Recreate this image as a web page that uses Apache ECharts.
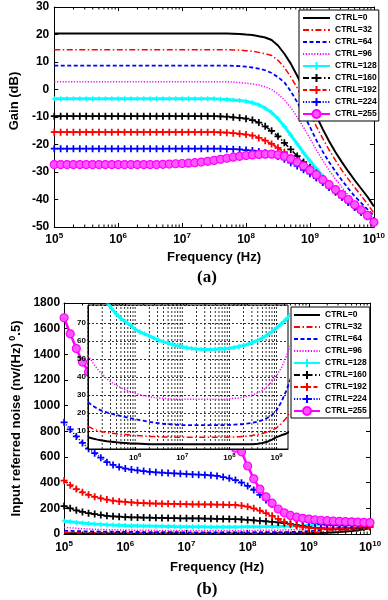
<!DOCTYPE html>
<html><head><meta charset="utf-8">
<script src="https://cdn.jsdelivr.net/npm/echarts@6/dist/echarts.min.js"></script>
<style>html,body{margin:0;padding:0;background:#fff}#c{width:388px;height:600px}</style>
</head><body><div id="c"></div>
<script>
// ---- frequency grid (0.1 decade steps) ----
const mantissas = [1.000,1.259,1.585,1.995,2.512,3.162,3.981,5.012,6.310,7.943];
const decades = [1e5,1e6,1e7,1e8,1e9];
const lastFreq = 1e10;
const minorMant = [2,3,4,5,6,7,8,9];
const ctrlNames = ['CTRL=0','CTRL=32','CTRL=64','CTRL=96','CTRL=128','CTRL=160','CTRL=192','CTRL=224','CTRL=255'];

// ---- (a) gain in dB ----
const gain0 = [20.4,20.4,20.4,20.4,20.4,20.4,20.4,20.4,20.4,20.4,
20.4,20.4,20.4,20.4,20.4,20.4,20.4,20.4,20.4,20.4,
20.4,20.4,20.4,20.4,20.4,20.4,20.4,20.4,20.3,20.2,
20.0,19.8,19.4,18.9,18.0,16.0,13.0,9.4,5.0,0.4,
-4.4,-9.6,-14.4,-18.8,-22.8,-26.4,-29.8,-33.0,-36.0,-39.0,
-42.5];
const gain32 = [14.5,14.5,14.5,14.5,14.5,14.5,14.5,14.5,14.5,14.5,
14.5,14.5,14.5,14.5,14.5,14.5,14.5,14.5,14.5,14.5,
14.5,14.5,14.5,14.5,14.5,14.5,14.5,14.5,14.4,14.3,
14.1,13.9,13.5,13.0,12.4,10.6,8.0,4.6,0.6,-3.8,
-8.5,-13.4,-17.8,-22.0,-25.8,-29.4,-32.6,-35.6,-38.6,-41.6,
-45.0];
const gain64 = [8.7,8.7,8.7,8.7,8.7,8.7,8.7,8.7,8.7,8.7,
8.7,8.7,8.7,8.7,8.7,8.7,8.7,8.7,8.7,8.7,
8.7,8.7,8.7,8.7,8.7,8.7,8.7,8.7,8.6,8.5,
8.3,8.0,7.6,7.0,6.0,4.5,2.6,-0.6,-4.6,-9.0,
-13.6,-18.4,-22.6,-26.4,-29.8,-33.0,-36.0,-38.8,-41.2,-43.6,
-46.0];
const gain96 = [2.8,2.8,2.8,2.8,2.8,2.8,2.8,2.8,2.8,2.8,
2.8,2.8,2.8,2.8,2.8,2.8,2.8,2.8,2.8,2.8,
2.8,2.8,2.8,2.8,2.8,2.8,2.8,2.8,2.7,2.5,
2.3,2.0,1.6,1.0,0.0,-1.6,-3.8,-6.6,-10.0,-13.8,
-17.8,-22.0,-25.8,-29.4,-32.6,-35.6,-38.4,-40.8,-43.0,-44.9,
-46.8];
const gain128 = [-3.4,-3.4,-3.4,-3.4,-3.4,-3.4,-3.4,-3.4,-3.4,-3.4,
-3.4,-3.4,-3.4,-3.4,-3.4,-3.4,-3.4,-3.4,-3.4,-3.4,
-3.4,-3.4,-3.4,-3.4,-3.4,-3.4,-3.5,-3.6,-3.8,-4.0,
-4.3,-4.8,-5.6,-6.8,-8.4,-10.6,-13.4,-16.6,-19.8,-23.0,
-26.0,-28.8,-31.4,-33.8,-36.2,-38.4,-40.4,-42.2,-44.0,-45.6,
-47.3];
const gain160 = [-9.7,-9.7,-9.7,-9.7,-9.7,-9.7,-9.7,-9.7,-9.7,-9.7,
-9.7,-9.7,-9.7,-9.7,-9.7,-9.7,-9.7,-9.7,-9.7,-9.7,
-9.7,-9.7,-9.7,-9.7,-9.7,-9.7,-9.8,-9.9,-10.1,-10.3,
-10.6,-11.1,-12.0,-13.4,-15.0,-17.0,-19.4,-21.8,-24.2,-26.4,
-28.4,-30.4,-32.4,-34.6,-36.8,-38.8,-40.8,-42.6,-44.4,-46.0,
-47.6];
const gain192 = [-15.5,-15.5,-15.5,-15.5,-15.5,-15.5,-15.5,-15.5,-15.5,-15.5,
-15.5,-15.5,-15.5,-15.5,-15.5,-15.5,-15.5,-15.5,-15.5,-15.5,
-15.5,-15.5,-15.5,-15.5,-15.5,-15.5,-15.6,-15.7,-15.9,-16.1,
-16.4,-16.8,-17.6,-18.6,-19.8,-21.2,-22.8,-24.6,-26.4,-28.2,
-30.0,-31.8,-33.6,-35.4,-37.2,-39.2,-41.0,-42.8,-44.6,-46.2,
-47.8];
const gain224 = [-21.5,-21.5,-21.5,-21.5,-21.5,-21.5,-21.5,-21.5,-21.5,-21.5,
-21.5,-21.5,-21.5,-21.5,-21.5,-21.5,-21.5,-21.5,-21.5,-21.5,
-21.5,-21.5,-21.5,-21.5,-21.5,-21.5,-21.5,-21.6,-21.7,-21.8,
-22.0,-22.2,-22.5,-23.0,-23.6,-24.4,-25.4,-26.6,-27.8,-29.2,
-30.6,-32.2,-33.8,-35.6,-37.4,-39.2,-41.0,-42.8,-44.6,-46.3,
-48.0];
const gain255 = [-27.3,-27.3,-27.3,-27.3,-27.3,-27.3,-27.3,-27.3,-27.3,-27.3,
-27.3,-27.3,-27.3,-27.3,-27.3,-27.3,-27.3,-27.2,-27.1,-27.0,
-26.9,-26.8,-26.6,-26.4,-26.1,-25.8,-25.4,-25.0,-24.6,-24.3,
-24.0,-23.8,-23.6,-23.5,-23.5,-23.8,-24.3,-25.2,-26.4,-27.8,
-29.3,-31.0,-32.8,-34.6,-36.4,-38.2,-40.0,-41.9,-43.8,-45.8,
-48.3];

// ---- (b) input referred noise ----
const noise0 = [6.5,5.8,5.2,4.7,4.3,4.0,3.7,3.5,3.3,3.1,
3.0,2.9,2.8,2.7,2.6,2.6,2.6,2.6,2.6,2.6,
2.6,2.6,2.6,2.6,2.6,2.6,2.6,2.6,2.6,2.6,
2.6,2.6,2.6,2.6,2.6,2.7,2.9,3.3,4.0,5.2,
6.6,7.6,8.5,10,12,15,19,24,30,37,
44];
const noise32 = [12.5,11.3,10.3,9.6,9.1,8.8,8.5,8.2,8.0,7.8,
7.6,7.4,7.2,7.0,6.9,6.8,6.7,6.6,6.5,6.5,
6.5,6.5,6.5,6.5,6.5,6.5,6.5,6.5,6.5,6.5,
6.6,6.7,6.8,7.0,7.2,7.6,8.1,8.6,9.4,10.3,
11.8,14,17,21,25,29,33,36,39,42,
45];
const noise64 = [26,24,22.4,21.2,20.3,19.6,19,18.3,17.7,17.1,
16.6,16.1,15.6,15.1,14.7,14.3,14,13.8,13.6,13.4,
13.3,13.3,13.3,13.3,13.3,13.3,13.3,13.3,13.3,13.3,
13.4,13.5,13.7,13.9,14.2,14.6,15.2,16,17.2,18.8,
21.5,26,32,39,45,50,54,57,60,62,
64];
const noise96 = [52,48,44.5,41.5,39,37,35.5,34,32.8,31.9,
31,30.2,29.5,29,28.6,28.3,28.1,27.9,27.8,27.7,
27.6,27.6,27.6,27.6,27.6,27.6,27.6,27.6,27.6,27.7,
27.9,28.1,28.4,28.8,29.4,30.2,31.2,32.6,34.6,37.4,
40.8,45,51,58,64,70,74,77,79,80,
81];
const noise128 = [102,96,90,86,81.5,78,75,72.5,70.5,68.8,
66.5,65,64,62.8,61.6,60.5,59.6,58.8,58,57.3,
56.8,56.3,55.9,55.6,55.4,55.3,55.3,55.4,55.5,55.7,
56,56.4,56.9,57.5,58.3,59.2,60.3,61.7,63.3,65.2,
67.3,69.5,72,75,78,81,84,87,89,91,
92];
const noise160 = [218,200,185,172,162,155,148,142,138,135,
132,130,129,128,127,126,125,124,123,122,
122,121,121,120,119,118,117,116,115,113,
110,107,103,99,95,90,85,78,70,61,
53,47,43,41,40,40,41,43,46,50,
55];
const noise192 = [415,380,350,325,305,290,278,268,260,254,
250,246,243,241,239,237,236,235,234,233,
232,231,231,230,230,229,228,227,226,222,
213,200,183,163,142,118,95,77,64,55,
49,45,43,42,42,43,45,48,52,57,
62];
const noise224 = [870,815,760,710,665,630,595,560,538,522,
510,502,496,490,485,481,478,475,473,470,
467,464,462,460,457,452,444,434,420,400,
375,343,305,265,230,195,163,137,120,106,
94,84,77,72,69,68,68,69,71,74,
78];
const noise255 = [1685,1560,1445,1340,1265,1200,1140,1085,1035,990,
950,915,885,860,838,818,800,785,772,760,
750,742,735,728,720,712,700,688,668,640,
530,430,350,290,240,195,165,145,131,122,
116,111,107,104,101,99,97,95,93,91,
89];

// ---- axis ranges / tick labels ----
const gainRange = [-50, 30], gainStep = 10;
const noiseRange = [0, 1800], noiseStep = 200;
const insetRange = [0, 80], insetStep = 10;
const freqRange = [1e5, 1e10];
const insetFreqRange = [1e5, 1.75e9];

// ---------------------------------------------------------
const freq = [];
decades.forEach(d => mantissas.forEach(m => freq.push(d * m)));
freq.push(lastFreq);
const minorVals = [];
decades.forEach(d => minorMant.forEach(m => minorVals.push(d * m)));
const insetGridVals = [];
decades.forEach(d => [1].concat(minorMant).forEach(m => { const v = d * m; if (v <= insetFreqRange[1]) insetGridVals.push(v); }));

const plus = 'path://M3,0H5V3H8V5H5V8H3V5H0V3H3Z';
const styles = {
  'CTRL=0':   {color:'#000000', type:'solid', width:2, symbol:'none'},
  'CTRL=32':  {color:'#ff0000', type:[6,2.5,1.5,2.5], width:1.5, symbol:'none'},
  'CTRL=64':  {color:'#0000ff', type:[4,2.5], width:1.8, symbol:'none'},
  'CTRL=96':  {color:'#ff00ff', type:[1.2,1.6], width:1.5, symbol:'none'},
  'CTRL=128': {color:'#00ffff', type:'solid', width:3, symbol:plus, size:5},
  'CTRL=160': {color:'#000000', type:[6,2.5,1.5,2.5], width:1.5, symbol:plus, size:7},
  'CTRL=192': {color:'#ff0000', type:[4,2.5], width:1.8, symbol:plus, size:7},
  'CTRL=224': {color:'#0000ff', type:[1.2,1.6], width:1.5, symbol:plus, size:7},
  'CTRL=255': {color:'#ff00ff', type:'solid', width:2.5, symbol:'circle', size:8}
};
function mk(name, arr, xi, yi, z) {
  const s = styles[name];
  const it = {color: s.color};
  if (s.symbol === 'circle') { it.color = '#ff55ff'; it.borderColor = '#ff00ff'; it.borderWidth = 1.2; }
  return {type:'line', name, xAxisIndex:xi, yAxisIndex:yi, z,
    data: arr.map((v, i) => [freq[i], v]),
    symbol: s.symbol, symbolSize: s.size || 4, showSymbol: s.symbol !== 'none',
    lineStyle: {color: s.color, width: s.width, type: s.type},
    itemStyle: it, silent: true, animation: false};
}
function tickSeries(xi, yi, yLo, yHi, len) {
  return {type:'custom', xAxisIndex:xi, yAxisIndex:yi, z:3, silent:true, animation:false,
    data: minorVals.map(v => [v, yLo]),
    renderItem: (p, api) => {
      const b = api.coord([api.value(0), yLo]);
      const t = api.coord([api.value(0), yHi]);
      return {type:'group', children:[
        {type:'line', shape:{x1:b[0], y1:b[1], x2:b[0], y2:b[1]-len}, style:{stroke:'#000', lineWidth:1}},
        {type:'line', shape:{x1:t[0], y1:t[1], x2:t[0], y2:t[1]+len}, style:{stroke:'#000', lineWidth:1}}
      ]};
    }};
}
function insetGridSeries() {
  return {type:'custom', xAxisIndex:4, yAxisIndex:4, z:6, silent:true, animation:false,
    data: insetGridVals.map(v => [v, insetRange[0]]),
    renderItem: (p, api) => {
      const b = api.coord([api.value(0), insetRange[0]]);
      const t = api.coord([api.value(0), insetRange[1]]);
      return {type:'line', shape:{x1:b[0], y1:b[1], x2:t[0], y2:t[1]}, style:{stroke:'#000', lineWidth:0.8, lineDash:[2,2]}};
    }};
}
const expLabel = (v) => '{b|10}{s|' + Math.round(Math.log10(v)) + '}';
const plainLabel = (v) => String(v);
const richBig = {b:{fontSize:12, fontWeight:'bold', lineHeight:16, color:'#000'}, s:{fontSize:8, fontWeight:'bold', lineHeight:6, verticalAlign:'top', color:'#000'}};
const richSmall = {b:{fontSize:8, fontWeight:'bold', lineHeight:11, color:'#000'}, s:{fontSize:6, fontWeight:'bold', lineHeight:4, verticalAlign:'top', color:'#000'}};
const axLine = {show:true, onZero:false, lineStyle:{color:'#000', width:1}};

function xLog(gi, pos, range, labels, margin, rich, z) {
  return {type:'log', gridIndex:gi, position:pos, min:range[0], max:range[1], logBase:10, z: z || 0,
    axisLine: axLine, axisTick:{show:true, inside:true, length:4, lineStyle:{color:'#000'}},
    splitLine:{show:false},
    axisLabel: labels ? {show:true, formatter:expLabel, margin, rich, showMaxLabel: range[1] === 1e10, showMinLabel: range[0] === 1e5 && rich === richBig} : {show:false}};
}
function yVal(gi, pos, range, step, labels, margin, fs, z, split) {
  return {type:'value', gridIndex:gi, position:pos, min:range[0], max:range[1], interval:step, z: z || 0,
    axisLine: axLine, axisTick:{show:true, inside:true, length:4, lineStyle:{color:'#000'}},
    splitLine: split ? {show:true, lineStyle:{color:'#000', width:0.8, type:[2,2]}} : {show:false},
    axisLabel: labels ? {show:true, margin, fontSize:fs, fontWeight:'bold', color:'#000', formatter: plainLabel} : {show:false}};
}

const xAxes = [
  Object.assign(xLog(0, 'bottom', freqRange, true, 5, richBig), {name:'Frequency (Hz)', nameLocation:'middle', nameGap:24, nameTextStyle:{fontSize:13, fontWeight:'bold', color:'#000'}}),
  xLog(0, 'top', freqRange, false),
  Object.assign(xLog(1, 'bottom', freqRange, true, 6, richBig), {name:'Frequency (Hz)', nameLocation:'middle', nameGap:27, nameTextStyle:{fontSize:13, fontWeight:'bold', color:'#000'}}),
  xLog(1, 'top', freqRange, false),
  xLog(2, 'bottom', insetFreqRange, true, 3, richSmall, 6)
];
xAxes[4].axisLabel.showMinLabel = false;
xAxes[4].axisLabel.showMaxLabel = false;
xAxes[4].axisTick.length = 2;

const yAxes = [
  Object.assign(yVal(0, 'left', gainRange, gainStep, true, 5, 12), {name:'Gain (dB)', nameLocation:'middle', nameGap:20, nameTextStyle:{fontSize:13, fontWeight:'bold', color:'#000', padding:[0,0,0,32]}}),
  yVal(0, 'right', gainRange, gainStep, false),
  Object.assign(yVal(1, 'left', noiseRange, noiseStep, true, 4, 12), {name:'{a|Input referred noise (nv/(Hz)}{s| 0}{a|.5)}', nameLocation:'middle', nameGap:35,
    nameTextStyle:{rich:{a:{fontSize:13, fontWeight:'bold', color:'#000', lineHeight:16}, s:{fontSize:9, fontWeight:'bold', color:'#000', lineHeight:6, verticalAlign:'top'}}}}),
  yVal(1, 'right', noiseRange, noiseStep, false),
  yVal(2, 'left', insetRange, insetStep, true, 2, 8, 6, true)
];
yAxes[4].axisLabel.showMinLabel = false;
yAxes[4].axisLabel.showMaxLabel = false;
yAxes[4].axisTick.length = 2;

const gainData = [gain0, gain32, gain64, gain96, gain128, gain160, gain192, gain224, gain255];
const noiseData = [noise0, noise32, noise64, noise96, noise128, noise160, noise192, noise224, noise255];
const series = [];
ctrlNames.forEach((n, i) => series.push(mk(n, gainData[i], 0, 0, 2)));
ctrlNames.forEach((n, i) => series.push(mk(n, noiseData[i], 2, 2, 2)));
series.push(insetGridSeries());
ctrlNames.slice(0, 5).forEach((n, i) => series.push(mk(n, noiseData[i], 4, 4, 7)));
series.push(tickSeries(0, 0, gainRange[0], gainRange[1], 2.5));
series.push(tickSeries(2, 2, noiseRange[0], noiseRange[1], 2.5));

const legendItems = ctrlNames.map(n => styles[n].symbol === 'none' ? {name:n, itemStyle:{opacity:0}} : {name:n});
function legendAt(left, top, iw, pad) {
  return {show:true, data: legendItems, orient:'vertical', left, top, z:20, selectedMode:false,
    itemWidth: iw, itemHeight:10, itemGap:2, padding: pad,
    backgroundColor:'#fff', borderColor:'#000', borderWidth:1, borderRadius:0,
    textStyle:{fontSize:8.5, fontWeight:'bold', color:'#000', lineHeight:10}};
}

const chart = echarts.init(document.getElementById('c'), null, {renderer:'canvas'});
chart.setOption({
  animation:false,
  backgroundColor:'#fff',
  textStyle:{fontFamily:'Liberation Sans'},
  grid:[
    {left:54, top:7, width:323, height:220, show:false},
    {left:54, top:303, width:316, height:231, show:false},
    {left:88, top:305, width:200, height:144, show:true, backgroundColor:'#fff', borderColor:'#000', borderWidth:1, z:5}
  ],
  xAxis: xAxes,
  yAxis: yAxes,
  legend: [legendAt(299, 10, 27, [3, 2, 2, 3]), legendAt(291, 307, 26, [3, 3, 2, 2])],
  graphic: [
    {type:'text', x:207, y:278, z:30, style:{text:'(a)', fontSize:17, fontWeight:'bold', fontFamily:'Liberation Serif', fill:'#000', align:'center', verticalAlign:'middle'}},
    {type:'text', x:207, y:590, z:30, style:{text:'(b)', fontSize:17, fontWeight:'bold', fontFamily:'Liberation Serif', fill:'#000', align:'center', verticalAlign:'middle'}}
  ],
  series
});
</script></body></html>
